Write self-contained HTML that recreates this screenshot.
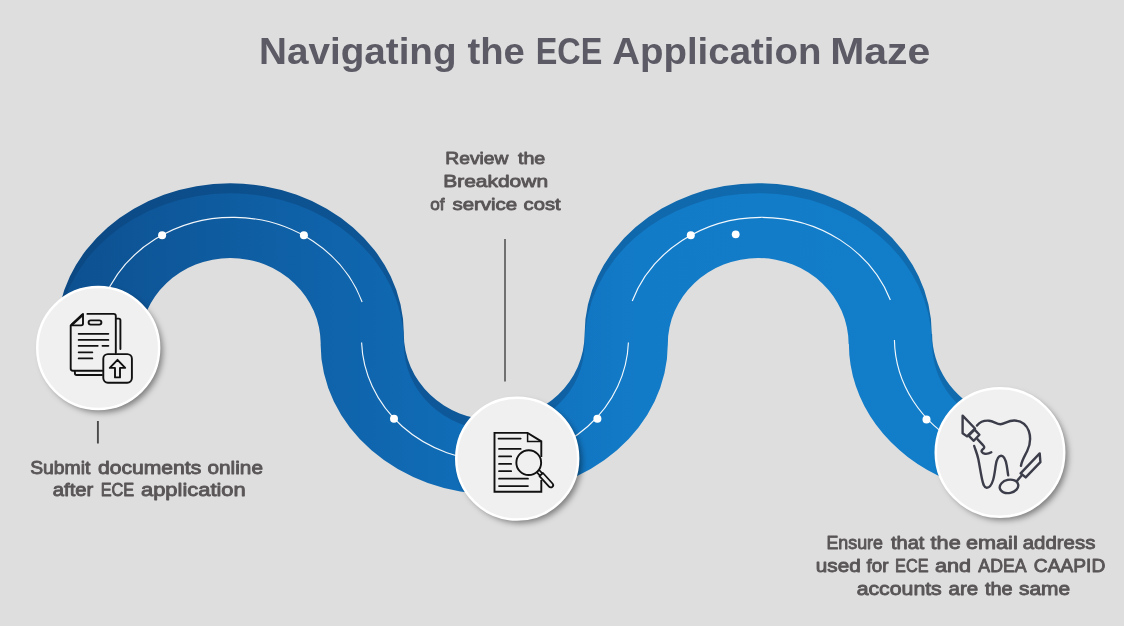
<!DOCTYPE html>
<html lang="en"><head><meta charset="utf-8"><title>Navigating the ECE Application Maze</title>
<style>
html,body{margin:0;padding:0;background:#dedede;}
body{width:1124px;height:626px;overflow:hidden;font-family:"Liberation Sans",sans-serif;}
svg{display:block;}
</style></head><body>
<svg width="1124" height="626" viewBox="0 0 1124 626" font-family="'Liberation Sans', sans-serif">
<defs>
<linearGradient id="gl" gradientUnits="userSpaceOnUse" x1="57" y1="0" x2="1000" y2="0">
<stop offset="0" stop-color="#0d5090"/><stop offset="0.42" stop-color="#106cb6"/><stop offset="0.62" stop-color="#127bc8"/><stop offset="1" stop-color="#127ec9"/>
</linearGradient>
<linearGradient id="gd" gradientUnits="userSpaceOnUse" x1="57" y1="0" x2="1000" y2="0">
<stop offset="0" stop-color="#0b4883"/><stop offset="0.46" stop-color="#0e5a9c"/><stop offset="0.62" stop-color="#1069ad"/><stop offset="1" stop-color="#106bae"/>
</linearGradient>
<filter id="sh" x="-30%" y="-30%" width="160%" height="160%"><feGaussianBlur stdDeviation="3.2"/></filter>
</defs>
<rect width="1124" height="626" fill="#dedede"/>
<path d="M56.7 358L56.7 344A173.6 150.8 0 0 1 403.9 344L403.8 344A90.4 86 0 0 0 584.6 344L584.6 344A173.6 150.8 0 0 1 931.8 344L932.1 344A90.4 86 0 0 0 984.3 421.94L949.13 480.4A173.6 150.5 0 0 1 848.9 344L848.6 344A90.4 86 0 0 0 667.8 344L667.8 344A173.6 150.5 0 0 1 320.6 344L320.7 344A90.4 86 0 0 0 139.9 344L139.9 358Z" fill="url(#gd)" transform="translate(0,-10)"/>
<path d="M56.7 358L56.7 344A173.6 150.8 0 0 1 403.9 344L403.8 344A90.4 86 0 0 0 584.6 344L584.6 344A173.6 150.8 0 0 1 931.8 344L932.1 344A90.4 86 0 0 0 984.3 421.94L949.13 480.4A173.6 150.5 0 0 1 848.9 344L848.6 344A90.4 86 0 0 0 667.8 344L667.8 344A173.6 150.5 0 0 1 320.6 344L320.7 344A90.4 86 0 0 0 139.9 344L139.9 358Z" fill="url(#gl)"/>
<path d="M104.45 298A137 125.2 0 0 1 362.13 302M632.25 301A137 125.2 0 0 1 890.37 300M361.59 342.5A133.5 123 0 0 0 628.41 342.5M894.42 340A133.5 123 0 0 0 962 444.97" fill="none" stroke="#fff" stroke-width="1.15" stroke-opacity="0.95"/>
<circle cx="162.1" cy="235.3" r="4.0" fill="#fff"/>
<circle cx="303.9" cy="235.3" r="4.0" fill="#fff"/>
<circle cx="394" cy="418.7" r="4.0" fill="#fff"/>
<circle cx="597.4" cy="418.7" r="4.0" fill="#fff"/>
<circle cx="690.8" cy="235.3" r="4.0" fill="#fff"/>
<circle cx="735.7" cy="234.3" r="3.9" fill="#fff"/>
<circle cx="926.5" cy="419.4" r="4.0" fill="#fff"/>
<path d="M505 239V381.6" stroke="#646464" stroke-width="1.8" fill="none"/>
<path d="M97.9 421V443.5" stroke="#4a4a4a" stroke-width="1.9" fill="none"/>
<circle cx="101.8" cy="351.6" r="60.7" fill="#000" fill-opacity="0.45" filter="url(#sh)"/>
<circle cx="98.2" cy="348" r="60.95" fill="#f0f0f0" stroke="#fff" stroke-width="2.5"/>
<circle cx="520.8" cy="462.2" r="60.7" fill="#000" fill-opacity="0.45" filter="url(#sh)"/>
<circle cx="517.2" cy="458.6" r="60.95" fill="#f0f0f0" stroke="#fff" stroke-width="2.5"/>
<circle cx="1003.6" cy="456.1" r="64" fill="#000" fill-opacity="0.45" filter="url(#sh)"/>
<circle cx="1000" cy="452.5" r="64.25" fill="#f0f0f0" stroke="#fff" stroke-width="2.5"/>
<g fill="none" stroke="#111" stroke-width="1.9" stroke-linecap="round" stroke-linejoin="round">
<path d="M116.6 318.6H118.8Q120.4 318.6 120.4 320.2V349"/>
<path d="M74.9 371.5V373.2Q74.9 375 76.7 375H102"/>
<path d="M87.4 313.9H113.6Q115.8 313.9 115.8 316.1V353M102.4 370.8H72.9Q70.7 370.8 70.7 368.6V325.4L83 313.9V323.6Q83 325.4 81.2 325.4H70.7"/>
<path d="M72 324.6L82.4 315" stroke-width="2.4"/>
<rect x="88.6" y="320.4" width="12.8" height="4.2" rx="2.1"/>
<path d="M78.6 333.8H108.4M78.6 339.9H108.4M78.6 345.8H97.8M102.4 345.8H108.4M78.6 352.3H92.4M78.6 358.4H92.4" stroke-width="1.7"/>
<rect x="103.3" y="354.1" width="28.6" height="28.6" rx="4.6" fill="#f0f0f0"/>
<path d="M117.5 359.8L125.2 367.9H120V377.4H115V367.9H109.8Z"/>
</g>

<g fill="none" stroke="#111" stroke-width="1.9" stroke-linecap="butt" stroke-linejoin="miter">
<path d="M541.3 457V441.4L527.6 432.9H494.5V491.8H541.3V480"/>
<path d="M527.6 432.9V441.4H541.3" stroke-width="1.5"/>
<path d="M498.5 438.6H520.7M499 448.9H520.7M499 456.4H511.2M499 463.9H511.2M499 471.2H511.2M499 478.7H528M499 486.1H528" stroke-linecap="round" stroke-width="1.7"/>
<g transform="translate(541.2 474.6) rotate(47.6)">
<path d="M-5 -1.6H0.4V1.6H-5Z" fill="#f0f0f0" stroke-width="1.7"/>
<path d="M0 -2.35H14.2A2.35 2.35 0 0 1 14.2 2.35H0Z" fill="#f0f0f0" stroke-width="1.8" stroke-linejoin="round"/>
</g>
<circle cx="528.75" cy="462.65" r="12.4" fill="#f0f0f0"/>
</g>

<g fill="none" stroke="#3c3d4a" stroke-width="2.4" stroke-linecap="round" stroke-linejoin="round">
<path d="M977 425.6C980 421.8 984.6 420.4 989 420.7C993.6 421 996.5 424.2 1000.5 424.2C1004.5 424.2 1008 420.3 1014.5 420.5C1021.5 420.7 1026.5 425 1028.8 431C1031 437.5 1029.8 445.5 1027.2 451C1024.8 456 1021.8 460.4 1021 465.8"/>
<path d="M974.2 446C975.7 450.6 977.3 454.2 978.3 459C979.7 466 980.7 473 982 479C982.9 483.2 983.7 487.6 986.7 487.7C989.7 487.8 991.7 484.6 993.1 480C994.5 475.2 995 470 995.7 465.5C996.5 460.4 997.6 455.8 1001.1 455.8C1004.6 455.8 1005.8 460.4 1006.7 465.5C1007.3 468.8 1007.7 472.2 1008.2 475.4"/>
<path d="M962.6 415.7L975 428.5L967 436.4L962.6 433.2Z"/>
<path d="M974.6 429.6L979.4 434.8L973.8 440.8L968.6 435.6Z"/>
<path d="M977.4 439.2L983 445.1C985.6 447.6 983.6 448.6 982.4 449.6C980.6 451.2 982.2 453.6 985 453.8C987.4 454 989.6 453.3 991.3 452.3"/>
<ellipse cx="1009" cy="486.4" rx="9.4" ry="6.6" transform="rotate(-12 1009 486.4)"/>
<path d="M1017 480.9L1021.4 475.8"/>
<path d="M1020.6 473.3L1039.7 453.4L1040.4 462.2L1025.7 477.4Z"/>
</g>

<g opacity="0.999">
<text x="259.01" y="64.4" textLength="197.59" lengthAdjust="spacingAndGlyphs" font-size="37" font-weight="bold" fill="#5b5a65">Navigating</text>
<text x="467.5" y="64.4" textLength="57.34" lengthAdjust="spacingAndGlyphs" font-size="37" font-weight="bold" fill="#5b5a65">the</text>
<text x="535.77" y="64.4" textLength="66.55" lengthAdjust="spacingAndGlyphs" font-size="37" font-weight="bold" fill="#5b5a65">ECE</text>
<text x="612.26" y="64.4" textLength="209.21" lengthAdjust="spacingAndGlyphs" font-size="37" font-weight="bold" fill="#5b5a65">Application</text>
<text x="830.15" y="64.4" textLength="100.08" lengthAdjust="spacingAndGlyphs" font-size="37" font-weight="bold" fill="#5b5a65">Maze</text>
<text x="445.37" y="164" textLength="63.13" lengthAdjust="spacingAndGlyphs" font-size="17" font-weight="normal" stroke="#595557" stroke-width="0.85" stroke-linejoin="round" fill="#595557">Review</text>
<text x="517.94" y="164" textLength="27.35" lengthAdjust="spacingAndGlyphs" font-size="17" font-weight="normal" stroke="#595557" stroke-width="0.85" stroke-linejoin="round" fill="#595557">the</text>
<text x="443.26" y="187.1" textLength="104.82" lengthAdjust="spacingAndGlyphs" font-size="17" font-weight="normal" stroke="#595557" stroke-width="0.85" stroke-linejoin="round" fill="#595557">Breakdown</text>
<text x="430.2" y="210" textLength="14.33" lengthAdjust="spacingAndGlyphs" font-size="17" font-weight="normal" stroke="#595557" stroke-width="0.85" stroke-linejoin="round" fill="#595557">of</text>
<text x="452.43" y="210" textLength="64.83" lengthAdjust="spacingAndGlyphs" font-size="17" font-weight="normal" stroke="#595557" stroke-width="0.85" stroke-linejoin="round" fill="#595557">service</text>
<text x="523.63" y="210" textLength="36.98" lengthAdjust="spacingAndGlyphs" font-size="17" font-weight="normal" stroke="#595557" stroke-width="0.85" stroke-linejoin="round" fill="#595557">cost</text>
<text x="30.21" y="473.8" textLength="60.19" lengthAdjust="spacingAndGlyphs" font-size="18" font-weight="normal" stroke="#595557" stroke-width="0.85" stroke-linejoin="round" fill="#595557">Submit</text>
<text x="97.9" y="473.8" textLength="103.41" lengthAdjust="spacingAndGlyphs" font-size="18" font-weight="normal" stroke="#595557" stroke-width="0.85" stroke-linejoin="round" fill="#595557">documents</text>
<text x="207.54" y="473.8" textLength="55.41" lengthAdjust="spacingAndGlyphs" font-size="18" font-weight="normal" stroke="#595557" stroke-width="0.85" stroke-linejoin="round" fill="#595557">online</text>
<text x="52.76" y="496.4" textLength="40.61" lengthAdjust="spacingAndGlyphs" font-size="18" font-weight="normal" stroke="#595557" stroke-width="0.85" stroke-linejoin="round" fill="#595557">after</text>
<text x="100.64" y="496.4" textLength="33.67" lengthAdjust="spacingAndGlyphs" font-size="18" font-weight="normal" stroke="#595557" stroke-width="0.85" stroke-linejoin="round" fill="#595557">ECE</text>
<text x="140.97" y="496.4" textLength="104.75" lengthAdjust="spacingAndGlyphs" font-size="18" font-weight="normal" stroke="#595557" stroke-width="0.85" stroke-linejoin="round" fill="#595557">application</text>
<text x="826.48" y="548.9" textLength="56.5" lengthAdjust="spacingAndGlyphs" font-size="18" font-weight="normal" stroke="#595557" stroke-width="0.85" stroke-linejoin="round" fill="#595557">Ensure</text>
<text x="890.94" y="548.9" textLength="33.42" lengthAdjust="spacingAndGlyphs" font-size="18" font-weight="normal" stroke="#595557" stroke-width="0.85" stroke-linejoin="round" fill="#595557">that</text>
<text x="930.58" y="548.9" textLength="30.13" lengthAdjust="spacingAndGlyphs" font-size="18" font-weight="normal" stroke="#595557" stroke-width="0.85" stroke-linejoin="round" fill="#595557">the</text>
<text x="965.93" y="548.9" textLength="51.79" lengthAdjust="spacingAndGlyphs" font-size="18" font-weight="normal" stroke="#595557" stroke-width="0.85" stroke-linejoin="round" fill="#595557">email</text>
<text x="1022.74" y="548.9" textLength="72.63" lengthAdjust="spacingAndGlyphs" font-size="18" font-weight="normal" stroke="#595557" stroke-width="0.85" stroke-linejoin="round" fill="#595557">address</text>
<text x="815.81" y="571.7" textLength="44.93" lengthAdjust="spacingAndGlyphs" font-size="18" font-weight="normal" stroke="#595557" stroke-width="0.85" stroke-linejoin="round" fill="#595557">used</text>
<text x="866.6" y="571.7" textLength="22.03" lengthAdjust="spacingAndGlyphs" font-size="18" font-weight="normal" stroke="#595557" stroke-width="0.85" stroke-linejoin="round" fill="#595557">for</text>
<text x="895.12" y="571.7" textLength="33.43" lengthAdjust="spacingAndGlyphs" font-size="18" font-weight="normal" stroke="#595557" stroke-width="0.85" stroke-linejoin="round" fill="#595557">ECE</text>
<text x="935" y="571.7" textLength="36.09" lengthAdjust="spacingAndGlyphs" font-size="18" font-weight="normal" stroke="#595557" stroke-width="0.85" stroke-linejoin="round" fill="#595557">and</text>
<text x="978.36" y="571.7" textLength="48.14" lengthAdjust="spacingAndGlyphs" font-size="18" font-weight="normal" stroke="#595557" stroke-width="0.85" stroke-linejoin="round" fill="#595557">ADEA</text>
<text x="1033.81" y="571.7" textLength="71.46" lengthAdjust="spacingAndGlyphs" font-size="18" font-weight="normal" stroke="#595557" stroke-width="0.85" stroke-linejoin="round" fill="#595557">CAAPID</text>
<text x="856.66" y="594.8" textLength="85.1" lengthAdjust="spacingAndGlyphs" font-size="18" font-weight="normal" stroke="#595557" stroke-width="0.85" stroke-linejoin="round" fill="#595557">accounts</text>
<text x="948.5" y="594.8" textLength="29.63" lengthAdjust="spacingAndGlyphs" font-size="18" font-weight="normal" stroke="#595557" stroke-width="0.85" stroke-linejoin="round" fill="#595557">are</text>
<text x="984.9" y="594.8" textLength="27.68" lengthAdjust="spacingAndGlyphs" font-size="18" font-weight="normal" stroke="#595557" stroke-width="0.85" stroke-linejoin="round" fill="#595557">the</text>
<text x="1019.02" y="594.8" textLength="51.13" lengthAdjust="spacingAndGlyphs" font-size="18" font-weight="normal" stroke="#595557" stroke-width="0.85" stroke-linejoin="round" fill="#595557">same</text>
</g>
</svg>
</body></html>
